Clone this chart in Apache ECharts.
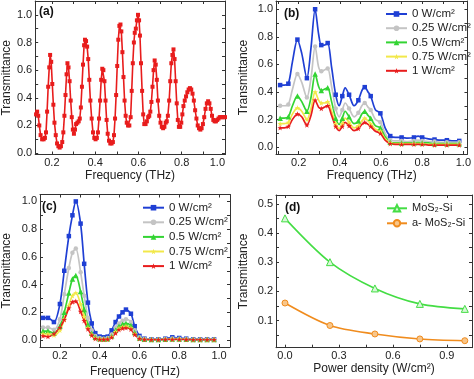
<!DOCTYPE html>
<html><head><meta charset="utf-8">
<script src="https://cdn.jsdelivr.net/npm/echarts@6/dist/echarts.min.js"></script>
<style>html,body{margin:0;padding:0;background:#fff}#c{width:474px;height:379px}</style>
</head><body><div id="c"></div>
<script>
// ---------- Panel (a) ----------
const freqA = [0.127,0.132,0.137,0.142,0.148,0.155,0.162,0.168,0.173,0.178,0.183,0.188,0.192,0.197,0.202,0.207,0.212,0.218,0.224,0.23,0.236,0.242,0.248,0.253,0.258,0.263,0.268,0.272,0.277,0.282,0.287,0.292,0.297,0.302,0.307,0.312,0.318,0.324,0.329,0.334,0.339,0.344,0.349,0.353,0.358,0.363,0.368,0.373,0.378,0.384,0.39,0.396,0.402,0.408,0.413,0.418,0.423,0.428,0.433,0.438,0.443,0.448,0.453,0.458,0.464,0.47,0.476,0.482,0.487,0.492,0.497,0.502,0.507,0.512,0.517,0.521,0.526,0.531,0.536,0.541,0.546,0.552,0.558,0.564,0.569,0.574,0.579,0.583,0.588,0.593,0.598,0.603,0.607,0.612,0.617,0.622,0.627,0.633,0.639,0.645,0.65,0.655,0.66,0.665,0.67,0.675,0.68,0.685,0.69,0.696,0.702,0.708,0.714,0.72,0.726,0.731,0.736,0.742,0.747,0.752,0.757,0.762,0.767,0.772,0.777,0.782,0.787,0.793,0.798,0.803,0.808,0.814,0.82,0.826,0.832,0.838,0.844,0.85,0.856,0.862,0.868,0.874,0.88,0.886,0.892,0.898,0.904,0.91,0.916,0.922,0.928,0.934,0.94,0.946,0.952,0.958,0.964,0.97,0.976,0.982,0.988,0.994,1.0];
const transA = [0.28,0.30,0.27,0.20,0.13,0.10,0.10,0.11,0.15,0.30,0.48,0.62,0.71,0.66,0.50,0.35,0.22,0.13,0.07,0.05,0.04,0.05,0.08,0.15,0.27,0.42,0.57,0.65,0.62,0.52,0.38,0.26,0.17,0.14,0.17,0.21,0.22,0.23,0.25,0.33,0.48,0.64,0.78,0.82,0.81,0.77,0.68,0.53,0.38,0.25,0.15,0.11,0.10,0.11,0.15,0.25,0.38,0.53,0.61,0.60,0.52,0.38,0.24,0.14,0.09,0.07,0.07,0.08,0.13,0.25,0.42,0.63,0.82,0.92,0.93,0.88,0.73,0.55,0.38,0.27,0.22,0.20,0.20,0.26,0.45,0.65,0.80,0.87,0.90,0.96,1.00,0.96,0.85,0.65,0.45,0.28,0.21,0.21,0.23,0.26,0.27,0.30,0.37,0.48,0.60,0.67,0.64,0.53,0.38,0.27,0.22,0.19,0.18,0.19,0.22,0.23,0.27,0.38,0.52,0.65,0.71,0.75,0.68,0.52,0.36,0.24,0.19,0.19,0.22,0.28,0.34,0.38,0.41,0.44,0.46,0.47,0.46,0.43,0.38,0.31,0.25,0.20,0.18,0.17,0.18,0.21,0.26,0.32,0.36,0.375,0.36,0.32,0.27,0.24,0.23,0.23,0.24,0.25,0.26,0.26,0.26,0.26,0.26];

// ---------- Panel (b) ----------
const freqB = [0.11,0.13,0.15,0.17,0.194,0.215,0.24,0.26,0.28,0.297,0.31,0.325,0.341,0.36,0.38,0.397,0.412,0.426,0.445,0.469,0.49,0.507,0.521,0.537,0.55,0.573,0.597,0.62,0.645,0.67,0.70,0.73,0.76,0.78,0.80,0.83,0.86,0.89,0.92,0.95,0.98];
const tB0   = [.45,.45,.46,.62,.78,.68,.50,.72,1.0,.82,.74,.74,.755,.58,.38,.30,.37,.43,.38,.30,.34,.41,.435,.40,.37,.27,.245,.14,.08,.07,.07,.065,.07,.08,.07,.06,.055,.05,.05,.045,.045];
const tB025 = [.30,.30,.31,.42,.53,.47,.36,.50,.73,.58,.55,.56,.57,.44,.28,.22,.27,.32,.28,.22,.25,.30,.32,.29,.27,.20,.18,.10,.05,.045,.045,.04,.045,.05,.045,.04,.04,.035,.035,.035,.035];
const tB05  = [.21,.21,.22,.30,.37,.33,.26,.36,.53,.44,.41,.42,.43,.33,.21,.165,.21,.26,.22,.17,.19,.24,.26,.23,.21,.155,.14,.075,.035,.03,.03,.03,.03,.035,.03,.03,.025,.025,.025,.025,.025];
const tB075 = [.17,.17,.18,.24,.285,.26,.20,.28,.40,.34,.32,.32,.33,.26,.17,.135,.17,.21,.18,.14,.155,.19,.21,.19,.17,.13,.115,.06,.03,.025,.025,.025,.025,.025,.025,.02,.02,.02,.02,.02,.02];
const tB1   = [.14,.14,.15,.20,.24,.22,.16,.23,.34,.29,.28,.29,.30,.23,.15,.12,.15,.18,.155,.12,.135,.165,.18,.165,.15,.115,.10,.05,.025,.02,.02,.02,.02,.02,.02,.015,.015,.015,.015,.015,.015];

// ---------- Panel (c) ----------
const freqC = [0.115,0.14,0.17,0.20,0.222,0.245,0.263,0.28,0.304,0.322,0.341,0.36,0.378,0.40,0.42,0.44,0.46,0.48,0.497,0.515,0.532,0.557,0.576,0.60,0.625,0.66,0.695,0.73,0.765,0.80,0.835,0.87,0.905,0.94,0.975];
const tC0   = [.16,.16,.13,.26,.50,.75,.90,1.0,.84,.55,.27,.12,.05,.025,.02,.025,.07,.13,.17,.20,.22,.19,.10,.03,.01,.005,.005,.01,.02,.015,.01,.005,.005,.005,.005];
const tC025 = [.09,.09,.075,.15,.33,.52,.63,.66,.49,.32,.16,.07,.03,.015,.01,.015,.04,.09,.12,.14,.15,.13,.07,.02,.008,.005,.005,.008,.012,.01,.008,.005,.005,.005,.005];
const tC05  = [.065,.065,.05,.10,.20,.34,.44,.465,.35,.22,.11,.05,.02,.01,.008,.01,.03,.07,.10,.115,.12,.105,.055,.015,.006,.004,.004,.006,.008,.007,.006,.004,.004,.004,.004];
const tC075 = [.045,.045,.035,.07,.15,.25,.32,.34,.26,.17,.09,.04,.015,.008,.006,.008,.025,.06,.085,.095,.10,.088,.045,.012,.005,.003,.003,.005,.006,.006,.005,.003,.003,.003,.003];
const tC1   = [.03,.025,.045,.09,.147,.23,.275,.28,.206,.14,.08,.035,.01,.005,.004,.006,.02,.05,.075,.085,.088,.078,.04,.01,.004,.003,.003,.004,.005,.005,.004,.003,.003,.003,.003];

// ---------- Panel (d) ----------
const powerD = [0, 0.25, 0.5, 0.75, 1.0];
const tMoS2Si = [0.45, 0.30, 0.21, 0.157, 0.14];
const tAMoS2Si = [0.16, 0.083, 0.054, 0.037, 0.031];

const powerNames = ['0 W/cm²', '0.25 W/cm²', '0.5 W/cm²', '0.75 W/cm²', '1 W/cm²'];
const dNames = ['MoS₂-Si', 'a- MoS₂-Si'];

// tick label values
const freqLabels = [0.2, 0.4, 0.6, 0.8, 1.0];
const freqTicks = [0.2, 0.3, 0.4, 0.5, 0.6, 0.7, 0.8, 0.9, 1.0];
const freqTicksC = [0.1, 0.2, 0.3, 0.4, 0.5, 0.6, 0.7, 0.8, 0.9, 1.0];
const transLabels = [0.0, 0.2, 0.4, 0.6, 0.8, 1.0];
const transTicks = [0.0, 0.1, 0.2, 0.3, 0.4, 0.5, 0.6, 0.7, 0.8, 0.9, 1.0];
const powerLabels = [0.0, 0.3, 0.6, 0.9];
const powerTicks = [0.0, 0.15, 0.3, 0.45, 0.6, 0.75, 0.9];
const dLabels = [0.1, 0.2, 0.3, 0.4, 0.5];
const dTicks = [0.05, 0.1, 0.15, 0.2, 0.25, 0.3, 0.35, 0.4, 0.45, 0.5];

const FONT = 'Liberation Sans, Arial, DejaVu Sans, sans-serif';
const AX = '#333';
const TXT = '#222';

const panels = [
  {grid:{left:34,top:1,width:191,height:153.5}, xmin:0.123,xmax:1.0, xl:freqLabels, xt:freqTicks, ymin:-0.01,ymax:1.1, yl:transLabels, yt:transTicks, xName:'Frequency (THz)', xGap:13, yGap:22},
  {grid:{left:276,top:1,width:194,height:153}, xmin:0.09,xmax:1.02, xl:freqLabels, xt:freqTicksC, ymin:-0.05,ymax:1.06, yl:transLabels, yt:transTicks, xName:'Frequency (THz)', xGap:16, yGap:26},
  {grid:{left:35,top:194.5,width:195,height:154.5}, xmin:0.1,xmax:1.055, xl:freqLabels, xt:freqTicksC, ymin:-0.05,ymax:1.05, yl:transLabels, yt:transTicks, xName:'Frequency (THz)', xGap:19, yGap:27},
  {grid:{left:276,top:195,width:196,height:152.7}, xmin:-0.05,xmax:1.04, xl:powerLabels, xt:powerTicks, ymin:0.007,ymax:0.53, yl:dLabels, yt:dTicks, xName:'Power density (W/cm²)', xGap:15, yGap:26}
];

const grids = [], xAxes = [], yAxes = [];
panels.forEach((p, g) => {
  grids.push(p.grid);
  const line = {show:true, onZero:false, lineStyle:{color:AX, width:1}};
  const tick = (vals) => ({show:true, inside:true, length:3, customValues:vals, lineStyle:{color:AX}});
  xAxes.push({type:'value', gridIndex:g, position:'bottom', min:p.xmin, max:p.xmax,
    axisLine:line, axisTick:tick(p.xt), splitLine:{show:false},
    axisLabel:{show:true, customValues:p.xl, formatter:v=>v.toFixed(1), fontSize:11, color:TXT, fontFamily:FONT, margin:3, alignMaxLabel: g===0 ? 'right' : null},
    name:p.xName, nameLocation:'middle', nameGap:p.xGap, nameTextStyle:{fontSize:12, color:TXT, fontFamily:FONT}});
  xAxes.push({type:'value', gridIndex:g, position:'top', min:p.xmin, max:p.xmax,
    axisLine:line, axisTick:tick(p.xt), splitLine:{show:false}, axisLabel:{show:false}});
  yAxes.push({type:'value', gridIndex:g, position:'left', min:p.ymin, max:p.ymax,
    axisLine:line, axisTick:tick(p.yt), splitLine:{show:false},
    axisLabel:{show:true, customValues:p.yl, formatter:v=>v.toFixed(1), fontSize:11, color:TXT, fontFamily:FONT, margin:3},
    name:'Transmittance', nameLocation:'middle', nameGap:p.yGap, nameTextStyle:{fontSize:12, color:TXT, fontFamily:FONT}});
  yAxes.push({type:'value', gridIndex:g, position:'right', min:p.ymin, max:p.ymax,
    axisLine:line, axisTick:tick(p.yt), splitLine:{show:false}, axisLabel:{show:false}});
});

const zip = (xs, ys) => xs.map((x, i) => [x, ys[i]]);
const STAR = 'path://M5,0 L6.2,3.8 L10,3.8 L7,6.2 L8.1,10 L5,7.6 L1.9,10 L3,6.2 L0,3.8 L3.8,3.8 Z';
const styles = [
  {color:'#1f3fd4', symbol:'rect', size:4.5},
  {color:'#c4c4c4', symbol:'circle', size:4.5},
  {color:'#33d433', symbol:'triangle', size:5.5},
  {color:'#f2e84a', symbol:STAR, size:5.5},
  {color:'#e81c1c', symbol:STAR, size:5.5}
];
const bSets = [tB0, tB025, tB05, tB075, tB1];
const cSets = [tC0, tC025, tC05, tC075, tC1];

const series = [];
series.push({type:'line', xAxisIndex:0, yAxisIndex:0, data:zip(freqA, transA), symbol:'rect', symbolSize:4,
  lineStyle:{color:'#e81c1c', width:1.6}, itemStyle:{color:'#e81c1c'}, animation:false});
bSets.forEach((arr, k) => {
  const s = styles[k];
  series.push({type:'line', name:powerNames[k], xAxisIndex:2, yAxisIndex:2, data:zip(freqB, arr), smooth:0.3,
    symbol:s.symbol, symbolSize:(v, p) => (p.dataIndex % 2 === 0 ? s.size : 0),
    lineStyle:{color:s.color, width:1.7}, itemStyle:{color:s.color}, animation:false});
});
cSets.forEach((arr, k) => {
  const s = styles[k];
  series.push({type:'line', name:powerNames[k], xAxisIndex:4, yAxisIndex:4, data:zip(freqC, arr), smooth:0.3,
    symbol:s.symbol, symbolSize:s.size,
    lineStyle:{color:s.color, width:1.7}, itemStyle:{color:s.color}, animation:false});
});
series.push({type:'line', name:dNames[0], xAxisIndex:6, yAxisIndex:6, data:zip(powerD, tMoS2Si), smooth:0.3,
  symbol:'triangle', symbolSize:7, lineStyle:{color:'#44dd44', width:1.6},
  itemStyle:{color:'#d8f7d8', borderColor:'#44dd44', borderWidth:1}, animation:false});
series.push({type:'line', name:dNames[1], xAxisIndex:6, yAxisIndex:6, data:zip(powerD, tAMoS2Si), smooth:0.3,
  symbol:'circle', symbolSize:6, lineStyle:{color:'#f08c1e', width:1.6},
  itemStyle:{color:'#f8c68a', borderColor:'#f08c1e', borderWidth:1}, animation:false});

const legendText = {fontSize:11.5, color:TXT, fontFamily:FONT, lineHeight:12};
const legendTextD = {fontSize:11, color:TXT, fontFamily:FONT, lineHeight:12};
const option = {
  backgroundColor:'#fff',
  animation:false,
  grid:grids, xAxis:xAxes, yAxis:yAxes, series:series,
  legend:[
    {data:powerNames, orient:'vertical', left:385, top:8, padding:0, itemWidth:21, itemHeight:7, itemGap:2.2, selectedMode:false, textStyle:legendText},
    {data:powerNames, orient:'vertical', left:142, top:201.7, padding:0, itemWidth:21, itemHeight:7, itemGap:2.6, selectedMode:false, textStyle:legendText},
    {data:dNames, orient:'vertical', left:386, top:202.3, padding:0, itemWidth:20, itemHeight:8, itemGap:3, selectedMode:false, textStyle:legendTextD}
  ],
  graphic:[
    {type:'text', left:39, top:6, style:{text:'(a)', font:'bold 12px ' + FONT, fill:'#111'}},
    {type:'text', left:284, top:8, style:{text:'(b)', font:'bold 12px ' + FONT, fill:'#111'}},
    {type:'text', left:42, top:201, style:{text:'(c)', font:'bold 12px ' + FONT, fill:'#111'}},
    {type:'text', left:285, top:202, style:{text:'(d)', font:'bold 12px ' + FONT, fill:'#111'}}
  ]
};
const chart = echarts.init(document.getElementById('c'), null, {renderer:'canvas'});
chart.setOption(option);
</script>
</body></html>
